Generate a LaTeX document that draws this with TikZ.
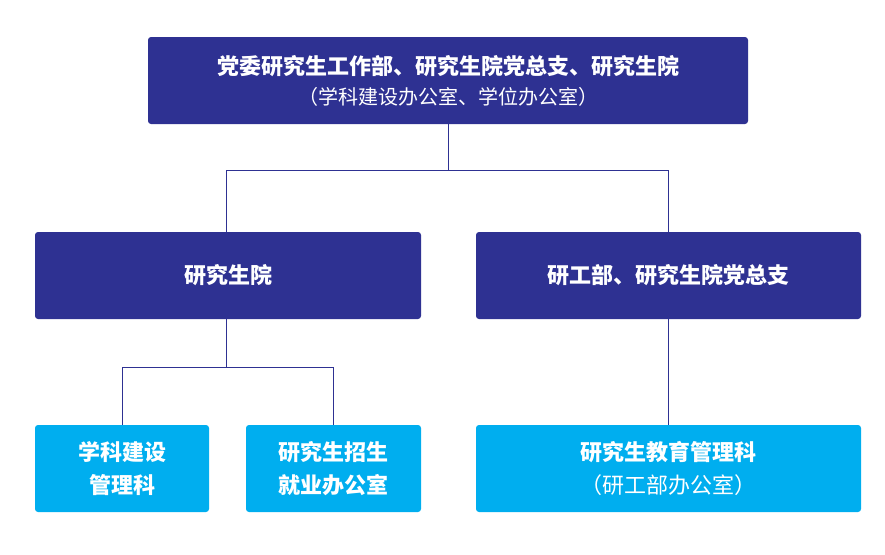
\documentclass[tikz,border=0pt]{standalone}
\usepackage{fontspec}
\setmainfont{Noto Sans CJK SC}
\usetikzlibrary{calc}
\definecolor{navy}{RGB}{46,49,146}
\definecolor{sky}{RGB}{0,174,239}
\tikzset{
  darkbox/.style={fill=navy, rounded corners=3pt, text=white, font=\bfseries\fontsize{22}{30}\selectfont, align=center, inner sep=0pt},
  lightbox/.style={fill=sky, rounded corners=3pt, text=white, font=\bfseries\fontsize{22}{33}\selectfont, align=center, inner sep=0pt},
  link/.style={navy, line width=0.8pt}
}
\begin{document}
\begin{tikzpicture}[x=1pt, y=-1pt]
  \useasboundingbox (0,0) rectangle (885,554);
  % boxes
  \node[darkbox, minimum width=600pt, minimum height=87pt] (top) at (448,80.5)
    {党委研究生工作部、研究生院党总支、研究生院\\{\mdseries\fontsize{20}{26}\selectfont （学科建设办公室、学位办公室）}};
  \node[darkbox, minimum width=386pt, minimum height=87pt] (school) at (228,275.5) {研究生院};
  \node[darkbox, minimum width=385pt, minimum height=87pt] (dept) at (668.5,275.5) {研工部、研究生院党总支};
  \node[lightbox, minimum width=174pt, minimum height=87pt] (disc) at (122,468.5) {学科建设\\管理科};
  \node[lightbox, minimum width=175pt, minimum height=87pt] (adm) at (333.5,468.5) {研究生招生\\就业办公室};
  \node[lightbox, minimum width=385pt, minimum height=87pt] (edu) at (668.5,468.5)
    {研究生教育管理科\\{\mdseries （研工部办公室）}};
  % connectors
  \coordinate (splitA) at (448,170);
  \coordinate (splitB) at (226,367);
  \draw[link] (top.south) -- (splitA);
  \draw[link] (splitA) -| (school.north -| 226,0);
  \draw[link] (splitA) -| (dept.north);
  \draw[link] (school.south -| splitB) -- (splitB);
  \draw[link] (splitB) -| (disc.north);
  \draw[link] (splitB) -| (adm.north);
  \draw[link] (dept.south) -- (edu.north);
\end{tikzpicture}
\end{document}
